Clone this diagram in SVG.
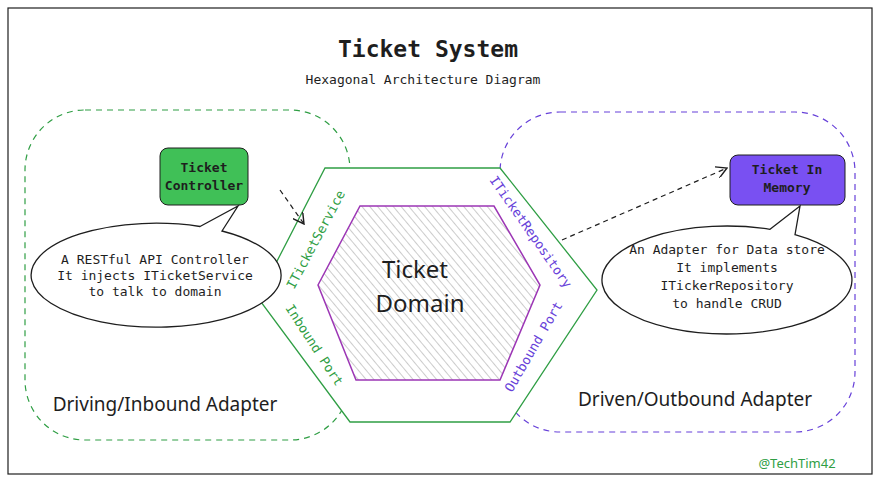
<svg xmlns="http://www.w3.org/2000/svg" width="880" height="482" viewBox="0 0 880 482">
<style>
.m{font-family:"DejaVu Sans Mono","Liberation Mono",monospace;fill:#1e1e1e}
.h{font-family:"Comic Sans MS","Noto Sans",sans-serif;fill:#1e1e1e}
.g{fill:#2f9e44}.p{fill:#6741d9}
</style>
<defs>
<pattern id="hatch" width="6" height="6" patternUnits="userSpaceOnUse" patternTransform="rotate(-40)">
<line x1="0" y1="0" x2="0" y2="6" stroke="#9a9a9a" stroke-width="1"/>
</pattern>
<marker id="ah" markerWidth="10" markerHeight="10" refX="9" refY="5" orient="auto"><path d="M0,0 L9,5 L0,10" fill="none" stroke="#1e1e1e" stroke-width="1.2"/></marker>
</defs>
<rect width="880" height="482" fill="#fff"/>
<rect x="8" y="8" width="864" height="466" fill="none" stroke="#1e1e1e" stroke-width="1.2"/>
<g id="title">
<text class="m" x="428" y="57" text-anchor="middle" font-size="23" font-weight="bold">Ticket System</text>
<text class="m" x="423" y="84" text-anchor="middle" font-size="13">Hexagonal Architecture Diagram</text>
</g>
<g id="inbound">
<rect x="25" y="110" width="325" height="330" rx="60" fill="none" stroke="#2f9e44" stroke-dasharray="6 5" stroke-width="1.2"/>
<text class="h" x="165" y="411" text-anchor="middle" font-size="19">Driving/Inbound Adapter</text>
</g>
<g id="outbound">
<rect x="500" y="112" width="355" height="320" rx="60" fill="none" stroke="#6741d9" stroke-dasharray="6 5" stroke-width="1.2"/>
<text class="h" x="695" y="406" text-anchor="middle" font-size="19">Driven/Outbound Adapter</text>
</g>
<g id="hexagon">
<polygon points="258,298 325,168 500,168 597,290 510,422 350,422" fill="#fff" stroke="#2f9e44" stroke-width="1.3"/>
<polygon points="318,285 360,206 494,206 540,285 500,380 356,380" fill="url(#hatch)" stroke="#9c36b5" stroke-width="1.5"/>
<text class="h" x="415" y="278" text-anchor="middle" font-size="24">Ticket</text>
<text class="h" x="420" y="312" text-anchor="middle" font-size="24">Domain</text>
<text class="m g" font-size="13" transform="translate(294,290) rotate(-62)">ITicketService</text>
<text class="m g" font-size="13" transform="translate(285,308) rotate(57)">Inbound Port</text>
<text class="m p" font-size="13" transform="translate(489,180) rotate(55)">ITicketRepository</text>
<text class="m p" font-size="13" transform="translate(512,393) rotate(-60)">Outbound Port</text>
</g>
<g id="controller">
<rect x="160" y="148" width="88" height="57" rx="8" fill="#40c057" stroke="#1e1e1e"/>
<text class="m" x="204" y="172" text-anchor="middle" font-size="13" font-weight="bold">Ticket</text>
<text class="m" x="204" y="190" text-anchor="middle" font-size="13" font-weight="bold">Controller</text>
</g>
<g id="memory">
<rect x="730" y="155" width="115" height="50" rx="8" fill="#7950f2" stroke="#1e1e1e"/>
<text class="m" x="787" y="174" text-anchor="middle" font-size="13" font-weight="bold">Ticket In</text>
<text class="m" x="787" y="192" text-anchor="middle" font-size="13" font-weight="bold">Memory</text>
</g>
<g id="bubble-left">
<path d="M200,226.5 L238,206 L222,231 A125,52 0 1 1 200,226.5 Z" fill="#fff" stroke="#1e1e1e" stroke-width="1.3"/>
<text class="m" x="155" y="264" text-anchor="middle" font-size="13">A RESTful API Controller</text>
<text class="m" x="155" y="280" text-anchor="middle" font-size="13">It injects ITicketService</text>
<text class="m" x="155" y="296" text-anchor="middle" font-size="13">to talk to domain</text>
</g>
<g id="bubble-right">
<path d="M770,229.3 L800,206 L795,234.7 A125,54 0 1 1 770,229.3 Z" fill="#fff" stroke="#1e1e1e" stroke-width="1.3"/>
<text class="m" x="727" y="254" text-anchor="middle" font-size="13">An Adapter for Data store</text>
<text class="m" x="727" y="272" text-anchor="middle" font-size="13">It implements</text>
<text class="m" x="727" y="290" text-anchor="middle" font-size="13">ITickerRepository</text>
<text class="m" x="727" y="308" text-anchor="middle" font-size="13">to handle CRUD</text>
</g>
<g id="connectors" fill="none" stroke="#1e1e1e" stroke-width="1.2" stroke-dasharray="5 4">
<path d="M280,190 L304,224" marker-end="url(#ah)"/>
<path d="M562,240 L727,168" marker-end="url(#ah)"/>
</g>
<text class="h g" x="797" y="468" text-anchor="middle" font-size="13">@TechTim42</text>
</svg>
